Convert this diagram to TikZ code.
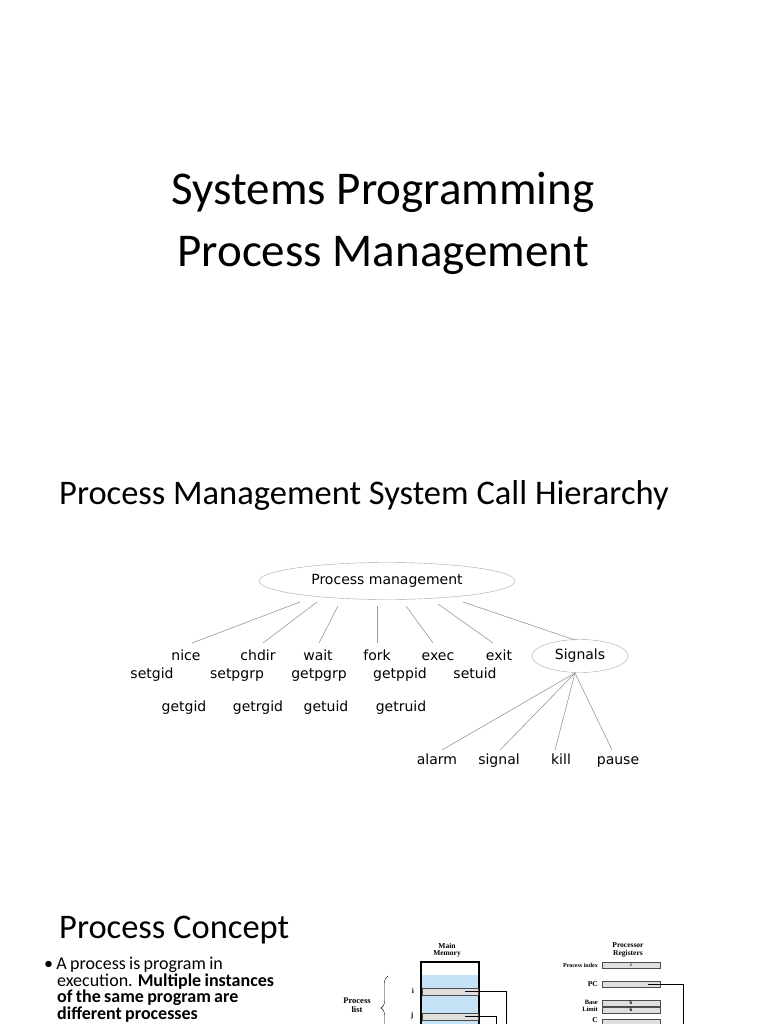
\documentclass[tikz,border=0pt]{standalone}
\usepackage{fontspec}
\setmainfont{Carlito}
\newfontfamily\dv{DejaVu Sans}
\newfontfamily\tms{Liberation Serif}
\usetikzlibrary{shapes.geometric,decorations.pathreplacing}
\definecolor{memblue}{HTML}{C6E2F7}
\begin{document}
\begin{tikzpicture}[x=1pt,y=-1pt,
  lbl/.style={font=\dv\fontsize{14}{16}\selectfont,inner sep=0pt,anchor=base},
  br/.style={draw=gray!80,line width=0.6pt},
  reg/.style={draw=black!70,fill=gray!25,line width=0.5pt},
  tiny/.style={font=\tms\bfseries\fontsize{7.5}{7.5}\selectfont,inner sep=0pt,align=center}]
\path[use as bounding box,fill=white] (0,0) rectangle (768,1024);
\clip (0,0) rectangle (768,1024);
\node (t1) at (383,192) {\fontsize{47}{52}\selectfont Systems Programming};
\node (t2) at (383,255) {\fontsize{47}{52}\selectfont Process Management};
\node[anchor=west,inner sep=0pt] (t3) at (59,495) {\fontsize{34.5}{40}\selectfont Process Management System Call Hierarchy};
\node[draw=gray!70,ellipse,minimum width=256,minimum height=37,font=\dv\fontsize{14}{16}\selectfont] (pm) at (387,581) {Process management};
\foreach \n/\x/\y in {nice/186/660,chdir/258/660,wait/318/660,fork/377/660,exec/438/660,exit/499/660,
  setgid/152/678,setpgrp/237/678,getpgrp/319/678,getppid/400/678,setuid/475/678,
  getgid/184/711,getrgid/258/711,getuid/326/711,getruid/401/711,
  alarm/437/764,signal/499/764,kill/561/764,pause/618/764}
  \node[lbl] (\n) at (\x,\y) {\n};
\node[draw=gray!70,ellipse,minimum width=96,minimum height=33,font=\dv\fontsize{14}{16}\selectfont,inner sep=0pt] (sig) at (580,656) {Signals};
\foreach \i/\a/\b/\c/\d in {1/300/602/192/643,2/317/602/263/643,3/338/606/319/643,4/377/606/377/643,
  5/406/606/433/643,6/438/604/493/643,7/463/602/575/640}{
  \coordinate (s\i) at (\a,\b); \coordinate (e\i) at (\c,\d); \draw[br] (s\i) -- (e\i);}
\coordinate (sb) at (575,673);
\foreach \i/\a in {1/442,2/500,3/555,4/612}{\coordinate (q\i) at (\a,750); \draw[br] (sb) -- (q\i);}
% Process concept
\node[anchor=west,inner sep=0pt] (pc) at (59,930) {\fontsize{34.5}{40}\selectfont Process Concept};
\node[anchor=north west,inner sep=0pt,align=left,text width=260] (bul) at (44,957)
 {\fontsize{18}{16.6}\selectfont\textbullet\ A process is program in\\ \hspace*{13pt}execution. \textbf{Multiple instances}\\ \hspace*{13pt}\textbf{of the same program are}\\ \hspace*{13pt}\textbf{different processes}};
% memory
\node[tiny] (mm) at (447,950) {Main\\Memory};
\fill[memblue] (421,975) rectangle (479,1030);
\draw[line width=1.6pt] (421,1030) -- (421,962) -- (479,962) -- (479,1030);
\draw[reg] (422,988) rectangle (478,995);
\draw[reg] (422,1013) rectangle (478,1020);
\node[tiny] (li) at (413,991) {i};
\node[tiny] (lj) at (412,1016) {j};
\coordinate (bt) at (388,976); \coordinate (bb) at (388,1040);
\draw[decorate,decoration={brace,amplitude=7pt}] (bb) -- (bt);
\node[tiny,font=\tms\bfseries\fontsize{8.5}{9}\selectfont] (plist) at (357,1005) {Process\\list};
\coordinate (a1) at (465,991); \coordinate (a2) at (506,991); \coordinate (a3) at (506,1030);
\draw[thin] (a1) -- (a2) -- (a3);
\coordinate (b1) at (465,1016); \coordinate (b2) at (496,1016); \coordinate (b3) at (496,1030);
\draw[thin] (b1) -- (b2) -- (b3);
\node[tiny] (prr) at (628,950) {Processor\\Registers};
\draw[reg] (602,962) rectangle (660,968); \node[tiny,font=\tms\bfseries\fontsize{5}{5}\selectfont] at (631,965) {i};
\draw[reg] (602,981) rectangle (660,987);
\draw[reg] (602,1000) rectangle (660,1006); \node[tiny,font=\tms\bfseries\fontsize{5}{5}\selectfont] at (631,1003) {b};
\draw[reg] (602,1007) rectangle (660,1013); \node[tiny,font=\tms\bfseries\fontsize{5}{5}\selectfont] at (631,1010) {h};
\draw[reg] (602,1019) rectangle (660,1025);
\node[tiny,anchor=east,font=\tms\bfseries\fontsize{6}{6}\selectfont] at (598,965) {Process index};
\node[tiny,anchor=east] at (598,984) {PC};
\node[tiny,anchor=east,align=right,font=\tms\bfseries\fontsize{6.5}{6.5}\selectfont] at (598,1006) {Base\\Limit};
\node[tiny,anchor=east] at (598,1020) {C};
\coordinate (c1) at (648,984); \coordinate (c2) at (683,984); \coordinate (c3) at (683,1030);
\draw[thin] (c1) -- (c2) -- (c3);
\end{tikzpicture}
\end{document}
